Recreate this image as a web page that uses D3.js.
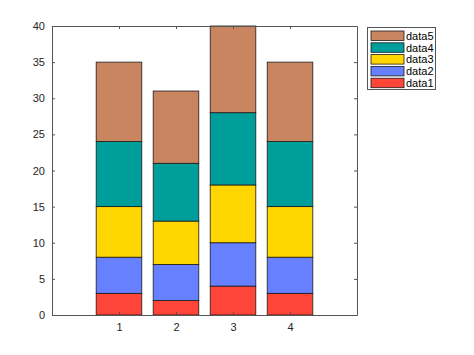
<!DOCTYPE html>
<html><head><meta charset="utf-8">
<script src="https://cdn.jsdelivr.net/npm/d3@7"></script>
<style>body{margin:0;background:#fff}svg{display:block}text{font-family:"Liberation Sans",Arial,sans-serif}</style>
</head><body><svg id="c" width="474" height="355"></svg>
<script>
const categories = [1, 2, 3, 4];
const seriesNames = ["data1", "data2", "data3", "data4", "data5"];
const data1 = [3, 2, 4, 3];
const data2 = [5, 5, 6, 5];
const data3 = [7, 6, 8, 7];
const data4 = [9, 8, 10, 9];
const data5 = [11, 10, 12, 11];
const colors = ["#ff4438", "#6680ff", "#ffd600", "#009e9a", "#c98460"];
const yTicks = [0, 5, 10, 15, 20, 25, 30, 35, 40];

const seriesVals = [data1, data2, data3, data4, data5];
const rows = categories.map((c, i) => {
  const r = {cat: c};
  seriesNames.forEach((s, j) => r[s] = seriesVals[j][i]);
  return r;
});
const stack = d3.stack().keys(seriesNames)(rows);

const svg = d3.select("#c");
const L = 52, R = 357, T = 26, B = 315;
const x = d3.scaleLinear().domain([-0.175, 5.175]).range([L, R]);
const y = d3.scaleLinear().domain([0, 40]).range([B, T]);
const bw = x(0.8) - x(0);
const axisCol = "#555";

svg.append("rect").attr("x", L).attr("y", T).attr("width", R - L).attr("height", B - T)
  .attr("fill", "#fff");

const g = svg.append("g");
stack.forEach((s, j) => {
  g.selectAll(null).data(s).enter().append("rect")
    .attr("x", d => x(d.data.cat) - bw / 2)
    .attr("y", d => y(d[1]))
    .attr("width", bw)
    .attr("height", d => y(d[0]) - y(d[1]))
    .attr("fill", colors[j])
    .attr("stroke", "#1a1a1a")
    .attr("stroke-width", 0.8);
});

// axes
const xb = svg.append("g").attr("transform", `translate(0,${B})`)
  .call(d3.axisBottom(x).tickValues(categories).tickFormat(d3.format("d")).tickSizeInner(-3).tickSizeOuter(0).tickPadding(8));
const xt = svg.append("g").attr("transform", `translate(0,${T})`)
  .call(d3.axisTop(x).tickValues(categories).tickFormat("").tickSizeInner(-3).tickSizeOuter(0));
const yl = svg.append("g").attr("transform", `translate(${L},0)`)
  .call(d3.axisLeft(y).tickValues(yTicks).tickFormat(d3.format("d")).tickSizeInner(-3).tickSizeOuter(0).tickPadding(7));
const yr = svg.append("g").attr("transform", `translate(${R},0)`)
  .call(d3.axisRight(y).tickValues(yTicks).tickFormat("").tickSizeInner(-3).tickSizeOuter(0));
[xb, xt, yl, yr].forEach(a => {
  a.selectAll("path").attr("stroke", axisCol);
  a.selectAll("line").attr("stroke", axisCol);
  a.selectAll("text").attr("fill", "#262626").style("font-size", "11px").attr("font-family", null);
});

// legend
const lg = svg.append("g");
lg.append("rect").attr("x", 367.5).attr("y", 27.5).attr("width", 68).attr("height", 62)
  .attr("fill", "#fff").attr("stroke", "#555").attr("stroke-width", 1);
const order = seriesNames.map((s, j) => j).reverse();
order.forEach((j, k) => {
  const yy = 31 + k * 11.8;
  lg.append("rect").attr("x", 371).attr("y", yy).attr("width", 33).attr("height", 9.5)
    .attr("fill", colors[j]).attr("stroke", "#1a1a1a").attr("stroke-width", 0.8);
  lg.append("text").attr("x", 406).attr("y", yy + 5).attr("dy", "0.35em")
    .style("font-size", "11px").attr("fill", "#000").text(seriesNames[j]);
});
</script></body></html>
